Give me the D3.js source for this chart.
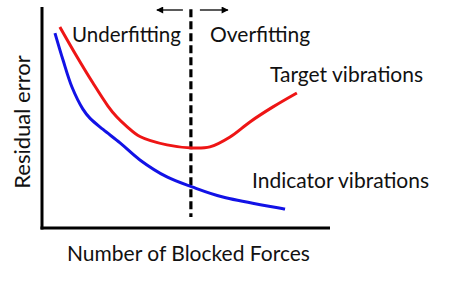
<!DOCTYPE html>
<html>
<head>
<meta charset="utf-8">
<script src="https://cdn.jsdelivr.net/npm/d3@7"></script>
<style>
  html, body { margin: 0; padding: 0; background: #fff; }
  text { font-family: Lato, "Open Sans", sans-serif; fill: #111; }
</style>
</head>
<body>
<svg id="chart" width="474" height="281"></svg>
<script>
// values (x: number of forces, y: error, both on a 0-100 scale)
const targetX = [6.2, 12.2, 17.7, 22.9, 26.0, 29.5, 34.0, 43.4, 52.1, 58.3, 65.3, 72.2, 80.2, 88.5];
const targetY = [91.0, 77.4, 65.6, 55.2, 50.2, 45.9, 41.4, 37.6, 36.2, 36.7, 41.2, 48.0, 54.8, 61.1];
const indicatorX = [4.5, 7.3, 10.4, 14.2, 16.7, 21.2, 27.1, 34.0, 43.4, 52.1, 62.8, 84.4];
const indicatorY = [88.2, 76.0, 63.8, 53.8, 49.6, 44.6, 38.5, 30.8, 23.1, 18.6, 14.0, 8.6];
const splitX = 51.7;
const regionLabels = ['Underfitting', 'Overfitting'];
const seriesLabels = ['Target vibrations', 'Indicator vibrations'];
const xTitle = 'Number of Blocked Forces';
const yTitle = 'Residual error';

const svg = d3.select('#chart');

const x = d3.scaleLinear().domain([0, 100]).range([42, 330]);
const y = d3.scaleLinear().domain([0, 100]).range([228, 7]);

const line = d3.line()
  .x(d => x(d[0]))
  .y(d => y(d[1]))
  .curve(d3.curveCatmullRom.alpha(0.5));

// axes (plain lines, no ticks)
svg.append('line')
  .attr('x1', x(0)).attr('x2', x(0))
  .attr('y1', y(0) + 1.5).attr('y2', y(100))
  .attr('stroke', '#000').attr('stroke-width', 3);
svg.append('line')
  .attr('x1', x(0) - 1.5).attr('x2', x(100))
  .attr('y1', y(0)).attr('y2', y(0))
  .attr('stroke', '#000').attr('stroke-width', 3);

// split line
svg.append('line')
  .attr('x1', x(splitX)).attr('x2', x(splitX))
  .attr('y1', y(99)).attr('y2', y(5))
  .attr('stroke', '#000').attr('stroke-width', 3.2)
  .attr('stroke-dasharray', '8,4');

// arrows
const defs = svg.append('defs');
defs.append('marker')
  .attr('id', 'head')
  .attr('viewBox', '0 0 10 10')
  .attr('refX', 9).attr('refY', 5)
  .attr('markerWidth', 9).attr('markerHeight', 7)
  .attr('markerUnits', 'userSpaceOnUse')
  .attr('orient', 'auto')
  .append('path').attr('d', 'M0,0L10,5L0,10Z').attr('fill', '#000');

const arrowY = 10;
svg.append('line')
  .attr('x1', x(splitX) - 8).attr('x2', x(splitX) - 34)
  .attr('y1', arrowY).attr('y2', arrowY)
  .attr('stroke', '#000').attr('stroke-width', 1.3)
  .attr('marker-end', 'url(#head)');
svg.append('line')
  .attr('x1', x(splitX) + 9).attr('x2', x(splitX) + 37)
  .attr('y1', arrowY).attr('y2', arrowY)
  .attr('stroke', '#000').attr('stroke-width', 1.3)
  .attr('marker-end', 'url(#head)');

// curves
svg.append('path')
  .datum(d3.zip(targetX, targetY))
  .attr('d', line)
  .attr('fill', 'none').attr('stroke', '#ee1515').attr('stroke-width', 3);
svg.append('path')
  .datum(d3.zip(indicatorX, indicatorY))
  .attr('d', line)
  .attr('fill', 'none').attr('stroke', '#1212e6').attr('stroke-width', 3);

// labels
const fs = 21;
svg.append('text').attr('x', 72).attr('y', 42).attr('font-size', 20.5).text(regionLabels[0]);
svg.append('text').attr('x', 210).attr('y', 42).attr('font-size', fs).text(regionLabels[1]);
svg.append('text').attr('x', 270).attr('y', 82).attr('font-size', fs).text(seriesLabels[0]);
svg.append('text').attr('x', 252).attr('y', 188).attr('font-size', fs).text(seriesLabels[1]);
svg.append('text').attr('x', 67).attr('y', 261).attr('font-size', fs).text(xTitle);
svg.append('text')
  .attr('transform', 'translate(30,122) rotate(-90)')
  .attr('text-anchor', 'middle')
  .attr('font-size', 22).text(yTitle);
</script>
</body>
</html>
